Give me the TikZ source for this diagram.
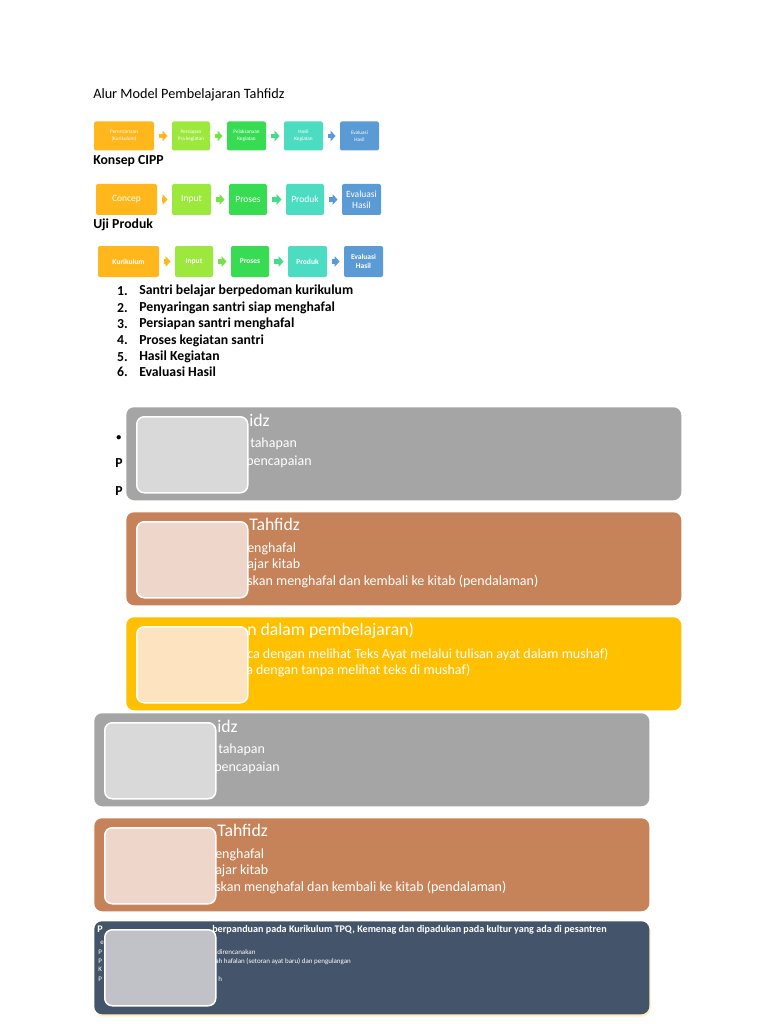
\documentclass[tikz,border=0pt]{standalone}
\usepackage{fontspec}
\setmainfont{Carlito}
\usepackage{tikz}
\usetikzlibrary{positioning}
\usetikzlibrary{arrows.meta}

\definecolor{boxorange}{HTML}{FFB71B}
\definecolor{boxlime}{HTML}{9DE83C}
\definecolor{boxgreen}{HTML}{37DC52}
\definecolor{boxteal}{HTML}{4CDCC2}
\definecolor{boxblue}{HTML}{5B9BD5}
\definecolor{panelgray}{HTML}{A5A5A5}
\definecolor{panelbrown}{HTML}{C6835A}
\definecolor{panelyellow}{HTML}{FFC000}
\definecolor{panelslate}{HTML}{44546A}
\definecolor{covergray}{HTML}{D9D9D9}
\definecolor{coverbrown}{HTML}{EED6CB}
\definecolor{coveryellow}{HTML}{FDE3BF}
\definecolor{coverslate}{HTML}{C1C2C7}

\begin{document}
\begin{tikzpicture}[x=0.8pt, y=-0.8pt, node distance=8.8pt,
  flowbox/.style={rounded corners=1.6pt, inner sep=0pt, text=white, align=center, fill=#1},
  flowarrow/.style={draw=#1, line width=3.4pt, -{Triangle[length=4pt,width=8.5pt]}, shorten <=3.4pt, shorten >=3.4pt},
  panel/.style={rounded corners=6.4pt, inner sep=0pt, anchor=north west, fill=#1, minimum width=444pt, minimum height=74.4pt},
  cover/.style={rounded corners=6pt, inner sep=0pt, anchor=north west, fill=#1, draw=white, line width=1.2pt, minimum width=88.8pt, minimum height=60.8pt},
  paneltext/.style={anchor=mid west, inner sep=0pt, text=white, font=\fontsize{11.2}{13}\selectfont},
  paneltitle/.style={paneltext, font=\fontsize{14.2}{16}\selectfont},
  heading/.style={anchor=mid west, inner sep=0pt, font=\fontsize{11}{13}\selectfont\bfseries},
  listitem/.style={anchor=mid west, inner sep=0pt, font=\fontsize{11}{13}\selectfont\bfseries}]

\useasboundingbox (0,0) rectangle (768,1024);
\fill [white] (0,0) rectangle (768,1024);

% headings
\node [heading, font=\fontsize{11.4}{13}\selectfont] (title) at (93,96) {Alur Model Pembelajaran Tahfidz};
\node [heading] (cipp) at (93,162) {Konsep CIPP};
\node [heading] (uji) at (93,226) {Uji Produk};

% alur model
\begin{scope}[font=\fontsize{4.2}{5.5}\selectfont]
\node [flowbox=boxorange, minimum width=48pt, minimum height=23.2pt] (alur1) at (124,136) {Perencanaan\\(Kurikulum)};
\node [flowbox=boxlime, minimum width=30.4pt, minimum height=23.2pt] (alur2) at (191,136) {Persiapan\\Pra kegiatan};
\node [flowbox=boxgreen, minimum width=31.2pt, minimum height=23.2pt] (alur3) at (246.5,136) {Pelaksanaan\\Kegiatan};
\node [flowbox=boxteal, minimum width=31.2pt, minimum height=23.2pt] (alur4) at (303.5,136) {Hasil\\Kegiatan};
\node [flowbox=boxblue, minimum width=31.2pt, minimum height=23.2pt] (alur5) at (359.5,136) {Evaluasi\\Hasil};
\end{scope}
\draw [flowarrow=boxorange] (alur1) -- (alur2);
\draw [flowarrow=boxlime!60!boxgreen] (alur2) -- (alur3);
\draw [flowarrow=boxgreen!50!boxteal] (alur3) -- (alur4);
\draw [flowarrow=boxblue] (alur4) -- (alur5);

% konsep cipp
\begin{scope}[font=\fontsize{7.6}{9}\selectfont]
\node [flowbox=boxorange, minimum width=48.8pt, minimum height=24.8pt] (cipp1) at (126.5,199.5) {Concep};
\node [flowbox=boxlime, minimum width=31.2pt, minimum height=24.8pt] (cipp2) at (191.5,199.5) {Input};
\node [flowbox=boxgreen, minimum width=30.4pt, minimum height=24.8pt] (cipp3) at (248,199.5) {Proses};
\node [flowbox=boxteal, minimum width=30.4pt, minimum height=24.8pt] (cipp4) at (305,199.5) {Produk};
\node [flowbox=boxblue, minimum width=31.2pt, minimum height=24.8pt] (cipp5) at (361.5,199.5) {Evaluasi\\Hasil};
\end{scope}
\draw [flowarrow=boxorange] (cipp1) -- (cipp2);
\draw [flowarrow=boxlime!60!boxgreen] (cipp2) -- (cipp3);
\draw [flowarrow=boxgreen!50!boxteal] (cipp3) -- (cipp4);
\draw [flowarrow=boxblue] (cipp4) -- (cipp5);

% uji produk
\begin{scope}[font=\fontsize{6}{7.5}\selectfont\bfseries]
\node [flowbox=boxorange, minimum width=48.8pt, minimum height=24.8pt] (uji1) at (128.5,261.5) {Kurikulum};
\node [flowbox=boxlime, minimum width=30.4pt, minimum height=24.8pt] (uji2) at (194,261.5) {Input};
\node [flowbox=boxgreen, minimum width=30.4pt, minimum height=24.8pt] (uji3) at (250,261.5) {Proses};
\node [flowbox=boxteal, minimum width=31.2pt, minimum height=24.8pt] (uji4) at (307.5,261.5) {Produk};
\node [flowbox=boxblue, minimum width=31.2pt, minimum height=24.8pt] (uji5) at (363.5,261.5) {Evaluasi\\Hasil};
\end{scope}
\draw [flowarrow=boxorange] (uji1) -- (uji2);
\draw [flowarrow=boxlime!60!boxgreen] (uji2) -- (uji3);
\draw [flowarrow=boxgreen!50!boxteal] (uji3) -- (uji4);
\draw [flowarrow=boxblue] (uji4) -- (uji5);

% numbered list
\node [listitem] (it1) at (139,292) {Santri belajar berpedoman kurikulum};
\node [listitem, left = of it1] {1.};
\node [listitem] (it2) at (139,308.4) {Penyaringan santri siap menghafal};
\node [listitem, left = of it2] {2.};
\node [listitem] (it3) at (139,324.8) {Persiapan santri menghafal};
\node [listitem, left = of it3] {3.};
\node [listitem] (it4) at (139,341.2) {Proses kegiatan santri};
\node [listitem, left = of it4] {4.};
\node [listitem] (it5) at (139,357.6) {Hasil Kegiatan};
\node [listitem, left = of it5] {5.};
\node [listitem] (it6) at (139,374) {Evaluasi Hasil};
\node [listitem, left = of it6] {6.};

% text peeking out behind the first panel
\node [listitem, font=\fontsize{8}{9}\selectfont\bfseries] (bul) at (116,438) {\textbullet};
\node [listitem] (pa) at (115,465) {P};
\node [listitem] (pb) at (115,493) {P};

% panels
\node [panel=panelgray] (panel1) at (126,407) {};
\node [paneltitle] at (249,424) {idz};
\node [paneltext] at (250,445) {tahapan};
\node [paneltext] at (246,463) {pencapaian};
\node [cover=covergray] (cover1) at (136,416) {};

\node [panel=panelbrown] (panel2) at (126,512) {};
\node [paneltitle] at (249,528) {Tahfidz};
\node [paneltext] at (247,550) {enghafal};
\node [paneltext] at (247,566) {ajar kitab};
\node [paneltext] at (247,583) {skan menghafal dan kembali ke kitab (pendalaman)};
\node [cover=coverbrown] (cover2) at (136,521) {};

\node [panel=panelyellow] (panel3) at (126,617) {};
\node [paneltitle] at (247,633) {n dalam pembelajaran)};
\node [paneltext] at (247,656) {ca dengan melihat Teks Ayat melalui tulisan ayat dalam mushaf)};
\node [paneltext] at (246,672) {a dengan tanpa melihat teks di mushaf)};
\node [cover=coveryellow] (cover3) at (136,626) {};

\node [panel=panelgray] (panel4) at (94,713) {};
\node [paneltitle] at (217,730) {idz};
\node [paneltext] at (218,751) {tahapan};
\node [paneltext] at (214,769) {pencapaian};
\node [cover=covergray] (cover4) at (104,722) {};

\node [panel=panelbrown] (panel5) at (94,818) {};
\node [paneltitle] at (217,834) {Tahfidz};
\node [paneltext] at (215,856) {enghafal};
\node [paneltext] at (215,872) {ajar kitab};
\node [paneltext] at (215,889) {skan menghafal dan kembali ke kitab (pendalaman)};
\node [cover=coverbrown] (cover5) at (104,827) {};

\fill [panelyellow!25, rounded corners=6.4pt] (95.5,923.5) rectangle ++(555,93);
\node [panel=panelslate] (panel6) at (94,921) {};
\begin{scope}[every node/.style={anchor=mid west, inner sep=0pt, text=white, font=\fontsize{5.6}{6}\selectfont}]
\node [font=\fontsize{8.1}{9}\selectfont\bfseries] at (97,930) {P};
\node [font=\fontsize{8.1}{9}\selectfont\bfseries] at (212,930) {berpanduan pada Kurikulum TPQ, Kemenag dan dipadukan pada kultur yang ada di pesantren};
\node at (100,942) {e};
\node at (98,952) {P};
\node at (217,952) {direncanakan};
\node at (98,961) {P};
\node at (215,961) {ah hafalan (setoran ayat baru) dan pengulangan};
\node at (98,969) {K};
\node at (98,979) {P};
\node at (218,979) {h};
\end{scope}
\node [cover=coverslate] (cover6) at (104,929) {};

\end{tikzpicture}
\end{document}
